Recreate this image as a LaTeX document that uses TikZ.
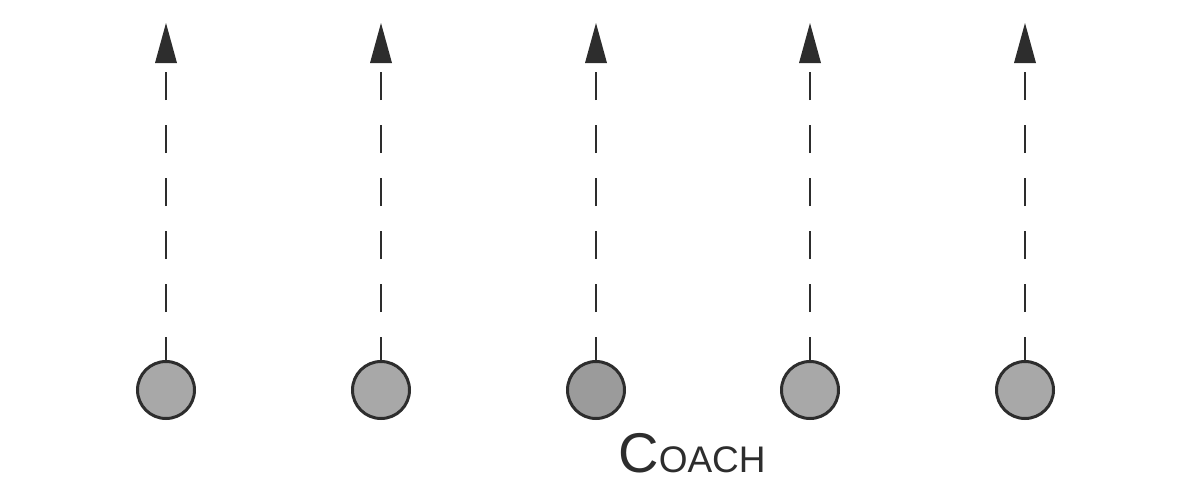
\documentclass[tikz,border=0pt]{standalone}
\usepackage{fontspec}
\setmainfont{Liberation Sans}
\usetikzlibrary{arrows.meta}
\definecolor{ink}{RGB}{45,45,45}
\definecolor{playerfill}{RGB}{168,168,168}
\definecolor{coachfill}{RGB}{155,155,155}
\tikzset{
  player/.style={circle,draw=ink,line width=3pt,fill=playerfill,minimum size=57pt,inner sep=0pt},
  coachdot/.style={player,fill=coachfill},
  run/.style={draw=ink,line width=2.6pt,dash pattern=on 28pt off 25pt,dash phase=5pt,
    -{Triangle[length=40pt,width=22pt,line width=0pt]}},
}
\begin{document}
\begin{tikzpicture}[x=1pt,y=-1pt]
\useasboundingbox (0,0) rectangle (1200,493);
\node[player]   (p1) at (166,390) {};
\node[player]   (p2) at (381,390) {};
\node[coachdot] (p3) at (596,390) {};
\node[player]   (p4) at (810,390) {};
\node[player]   (p5) at (1025,390) {};
\coordinate (t1) at (166,23);
\coordinate (t2) at (381,23);
\coordinate (t3) at (596,23);
\coordinate (t4) at (810,23);
\coordinate (t5) at (1025,23);
\foreach \i in {1,...,5}{
  \draw[run] (p\i.north) -- (t\i);
}
\node[anchor=base,inner sep=0pt,text=ink] (coach) at (692,472)
  {{\fontsize{56pt}{60pt}\selectfont C}{\fontsize{37pt}{40pt}\selectfont OACH}};
\end{tikzpicture}
\end{document}
